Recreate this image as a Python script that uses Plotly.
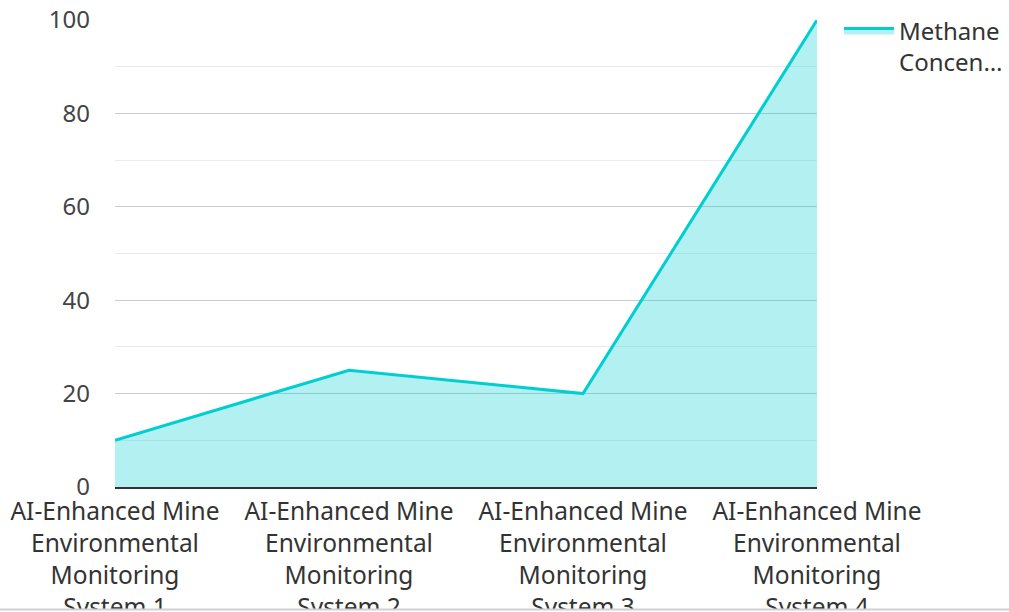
import plotly.graph_objects as go

categories = [
    "AI-Enhanced Mine<br>Environmental<br>Monitoring<br>System 1",
    "AI-Enhanced Mine<br>Environmental<br>Monitoring<br>System 2",
    "AI-Enhanced Mine<br>Environmental<br>Monitoring<br>System 3",
    "AI-Enhanced Mine<br>Environmental<br>Monitoring<br>System 4",
]
methane = [10, 25, 20, 100]
series_name = "Methane<br>Concen…"
y_ticks = [0, 20, 40, 60, 80, 100]

W, H = 1009, 612
L, R, T, B = 115, 192, 20, 125
plot_w = W - L - R
plot_h = H - T - B
cut_y = 609.5  # pixel row where the page is cut off


def py(pix):
    return (T + plot_h - pix) / plot_h


fig = go.Figure()
fig.add_trace(go.Scatter(
    x=list(range(len(categories))),
    y=methane,
    mode="lines",
    name=series_name,
    line=dict(color="#00CED1", width=3),
    fill="tozeroy",
    fillcolor="rgba(0,206,209,0.3)",
    showlegend=True,
))

font = "Noto Sans, Open Sans, sans-serif"
fig.update_layout(
    width=W, height=H,
    margin=dict(l=L, r=R, t=T, b=B, pad=0, autoexpand=False),
    paper_bgcolor="white",
    plot_bgcolor="white",
    font=dict(family=font, size=24, color="#333"),
    xaxis=dict(
        tickmode="array",
        tickvals=list(range(len(categories))),
        ticktext=categories,
        range=[0, len(categories) - 1],
        showgrid=False,
        showline=True, linecolor="#333", linewidth=2,
        zeroline=False,
        ticks="", tickfont=dict(size=24.5, color="#333"),
        ticklabelstandoff=2,
        automargin=False,
        fixedrange=True,
    ),
    yaxis=dict(
        range=[0, 100],
        tickmode="array",
        tickvals=y_ticks,
        showgrid=True, gridcolor="#cccccc", gridwidth=1,
        minor=dict(dtick=10, tick0=0, showgrid=True, gridcolor="#ebebeb", gridwidth=1),
        zeroline=False, showline=False,
        ticks="", tickfont=dict(size=24, color="#444"),
        ticklabelstandoff=24,
        automargin=False,
        fixedrange=True,
    ),
    legend=dict(
        x=1.0 + 22 / plot_w, xanchor="left", y=1.04 - 7 / plot_h, yanchor="top",
        font=dict(size=24, color="#333"),
        itemwidth=50,
        valign="top",
        bgcolor="rgba(0,0,0,0)",
    ),
    shapes=[
        dict(type="rect", xref="paper", yref="paper",
             x0=-L / plot_w, x1=(W - L) / plot_w,
             y0=py(cut_y), y1=py(H + 5),
             fillcolor="white", line=dict(width=0), layer="above"),
        dict(type="line", xref="paper", yref="paper",
             x0=-L / plot_w, x1=(W - L) / plot_w,
             y0=py(cut_y), y1=py(cut_y),
             line=dict(color="#d0d0d0", width=2), layer="above"),
    ],
)

fig.write_html("out.html")
